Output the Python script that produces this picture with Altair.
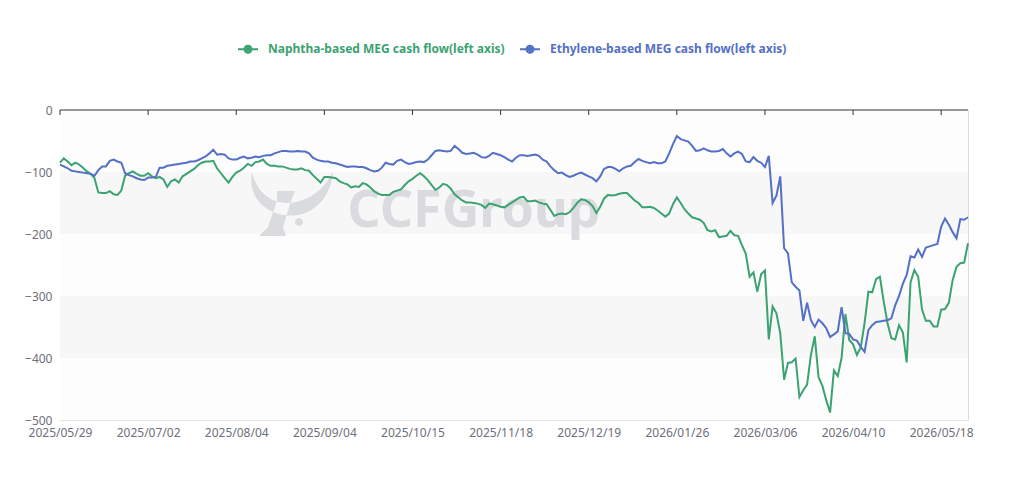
import altair as alt
import pandas as pd

# ---------------- data ----------------
x_tick_idx = [0, 23, 46, 69, 92, 115, 138, 161, 184, 207, 230]
x_tick_labels = ["2025/05/29", "2025/07/02", "2025/08/04", "2025/09/04", "2025/10/15",
                 "2025/11/18", "2025/12/19", "2026/01/26", "2026/03/06", "2026/04/10",
                 "2026/05/18"]
y_ticks = [0, -100, -200, -300, -400, -500]
series_names = ["Naphtha-based MEG cash flow(left axis)", "Ethylene-based MEG cash flow(left axis)"]
series_colors = ["#3ba272", "#5470c6"]

naphtha = [
    -85, -78, -83, -89, -85, -88, -93, -99, -103, -110,
    -133, -134, -134, -131, -136, -137, -130, -106, -102, -99,
    -103, -106, -106, -102, -107, -110, -108, -112, -124, -115,
    -112, -117, -107, -103, -99, -95, -89, -85, -83, -83,
    -82, -94, -102, -110, -117, -108, -101, -98, -93, -87,
    -90, -84, -83, -80, -87, -90, -90, -91, -91, -93,
    -95, -96,
    -96, -94, -97, -98, -105, -111, -117, -108, -108, -109,
    -110, -115, -118, -120, -125, -123, -124, -118, -120, -125,
    -131, -135, -137, -137, -137, -132, -130, -128, -121, -115,
    -111, -106, -102, -107, -113, -121, -129, -125, -119, -121,
    -127, -136, -141, -146, -149, -149, -150, -151, -153, -158,
    -151, -152, -154, -156, -157, -153, -149, -145, -141, -140,
    -147, -147, -146, -149, -151, -152, -161, -171, -168, -167,
    -168, -165, -158, -150, -144, -145, -149, -155, -166, -156,
    -143, -137, -138, -137, -135, -134, -134, -140, -146, -150,
    -157, -157, -156, -158, -162, -167, -172, -167, -152, -141,
    -150, -160, -167, -173, -175, -177, -182, -194, -196, -194,
    -205, -204, -203, -195, -202, -203,
    -218, -232, -269, -262, -293, -265, -259, -370, -317, -328,
    -360, -435, -408, -407, -401, -463, -452, -443, -395, -365,
    -431, -445, -468, -488, -420, -429, -400, -329, -371, -378,
    -395, -383, -344, -293, -294, -273, -269, -309, -344, -368,
    -370, -347, -359, -407, -278, -258, -269, -322, -340, -340,
    -349, -349, -322, -321, -311, -274, -253, -247, -246, -215,
]

ethylene = [
    -88, -91, -94, -98, -99, -100, -101, -102, -103, -106,
    -97, -91, -91, -82, -80, -83, -85, -102, -105, -107,
    -110, -112, -113, -109, -109, -108, -93, -93, -90, -89,
    -88, -87, -86, -85, -83, -83, -81, -78, -75, -70,
    -64, -72, -71, -72, -78, -80, -80, -77, -75, -78,
    -77, -75, -76, -74, -73, -73, -70, -68, -66, -66,
    -67, -67,
    -66, -67, -67, -70, -77, -80, -82, -83, -83, -85,
    -86, -88, -90, -92, -91, -91, -92, -92, -94, -97,
    -99, -98, -93, -85, -87, -88, -82, -80, -84, -87,
    -86, -84, -83, -84, -80, -73, -66, -65, -66, -67,
    -66, -58, -63, -69, -71, -70, -69, -72, -76, -77,
    -74, -69, -71, -73, -76, -80, -83, -77, -73, -73,
    -74, -73, -72, -74, -80, -83, -91, -97, -102, -101,
    -105, -108, -106, -103, -101, -104, -107, -110, -115, -107,
    -95, -92, -92, -95, -99, -94, -91, -90, -84, -79,
    -82, -84, -86, -84, -86, -86, -83, -70, -55, -42,
    -47, -49, -51, -58, -66, -65, -62, -65, -67, -67,
    -66, -63, -70, -75, -70, -67, -71, -83, -84, -76,
    -82, -85, -92, -74, -150, -138, -107, -223, -231, -278,
    -285, -291, -340, -311, -339, -350, -338, -344, -352, -366,
    -362, -357, -318, -360, -361, -370, -372, -382, -390, -355,
    -347, -342, -341, -340, -339, -336, -315, -300, -280, -266,
    -236, -238, -225, -237, -222, -220, -218, -216, -188, -175,
    -185, -197, -207, -176, -177, -173,
]

band_top = [0, -100, -200, -300, -400]
band_bottom = [-100, -200, -300, -400, -500]
band_fill = ["#fdfdfd", "#f7f7f7", "#fdfdfd", "#f7f7f7", "#fdfdfd"]

watermark = ["CCFGroup"]

# ---------------- tables ----------------
n = len(naphtha)
df = pd.DataFrame({
    "i": list(range(n)) + list(range(len(ethylene))),
    "v": naphtha + ethylene,
    "s": [series_names[0]] * n + [series_names[1]] * len(ethylene),
})
bands = pd.DataFrame({"top": band_top, "bottom": band_bottom, "fill": band_fill})
ticks = pd.DataFrame({"t": x_tick_idx})
wm = pd.DataFrame({"w": watermark})
top_line = pd.DataFrame({"a": [0]})

W, H = 908, 310
FONT = "Noto Sans"
WM_COLOR = "#dadbdf"
last = n - 1

label_expr = "[" + ",".join("'%s'" % s for s in x_tick_labels) + "][indexof([" + \
    ",".join(str(t) for t in x_tick_idx) + "], datum.value)]"

xscale = alt.Scale(domain=[0, last], nice=False, zero=False)
yscale = alt.Scale(domain=[-500, 0], nice=False)

x_axis = alt.Axis(values=x_tick_idx, labelExpr=label_expr, ticks=False, domain=False,
                  grid=False, labelPadding=7, labelColor="#6e7079", labelFontSize=12,
                  labelFont=FONT, title=None, labelOverlap=False, labelFlush=False)
y_axis = alt.Axis(values=y_ticks, ticks=False, domain=False, grid=True, gridColor="#e6e6e6",
                  gridWidth=1, labelPadding=8, labelColor="#6e7079", labelFontSize=12,
                  labelFont=FONT, title=None)

band_layer = alt.Chart(bands).mark_rect().encode(
    x=alt.value(0), x2=alt.value(W),
    y=alt.Y("top:Q", scale=yscale, axis=y_axis),
    y2="bottom:Q",
    fill=alt.Fill("fill:N", scale=None),
)

# watermark logo (decoration): crescent, stem and dot, as one custom symbol path
logo_path = (
    "M-40,-33 C-46,-2 -16,16 10,9 C28,4 40,-14 41,-34 C32,-14 14,-2 -6,-2 "
    "C-24,-3 -36,-15 -40,-33 Z "
    "M-15,-14 L3,-14 L-1,-4 L-9,22 L-6,31 L-33,31 L-24,22 L-15,-4 Z "
    "M11,17 A4,4 0 1,1 3,17 A4,4 0 1,1 11,17 Z"
)
logo_layer = alt.Chart(wm).mark_point(
    shape=logo_path, size=4, filled=True, fill=WM_COLOR, stroke=None, opacity=1,
).encode(x=alt.value(232), y=alt.value(95))

wm_layer = alt.Chart(wm).mark_text(
    font=FONT, fontSize=52, fontWeight="bold", color=WM_COLOR, align="center",
    baseline="alphabetic",
).encode(x=alt.value(414), y=alt.value(117), text="w:N")

color_scale = alt.Scale(domain=series_names, range=series_colors)
label_color_expr = "datum.label == '%s' ? '%s' : '%s'" % (series_names[0], series_colors[0], series_colors[1])
sym_path = ("M-1,0L1,0 M0.35,0A0.35,0.35 0 1,1 -0.35,0A0.35,0.35 0 1,1 0.35,0 "
            "M0.15,0A0.15,0.15 0 1,1 -0.15,0A0.15,0.15 0 1,1 0.15,0")

lines = alt.Chart(df).mark_line(strokeWidth=2).encode(
    x=alt.X("i:Q", scale=xscale, axis=x_axis),
    y=alt.Y("v:Q", scale=yscale, axis=y_axis),
    color=alt.Color("s:N", scale=color_scale, sort=series_names, legend=alt.Legend(
        orient="none", legendX=177, legendY=-72, direction="horizontal", title=None,
        symbolType=sym_path, symbolSize=400, symbolStrokeWidth=2,
        labelFont=FONT, labelFontSize=12, labelFontWeight="bold",
        labelColor=alt.ExprRef(label_color_expr), labelOffset=9, columnPadding=11,
        labelLimit=400,
    )),
)

top_axis_line = alt.Chart(top_line).mark_rule(color="#333333", strokeWidth=1).encode(
    x=alt.value(0), x2=alt.value(W), y=alt.value(0)
)
tick_layer = alt.Chart(ticks).mark_rule(color="#333333", strokeWidth=1).encode(
    x=alt.X("t:Q", scale=xscale, axis=x_axis), y=alt.value(0), y2=alt.value(5)
)

chart = alt.layer(band_layer, logo_layer, wm_layer, lines, top_axis_line, tick_layer).properties(
    width=W, height=H,
    autosize=alt.AutoSizeParams(type="none"),
    padding={"left": 60, "top": 110, "right": 60, "bottom": 80},
).configure_view(stroke=None).configure(background="white")

chart.save("out.html", embed_options={"renderer": "svg", "actions": False})
